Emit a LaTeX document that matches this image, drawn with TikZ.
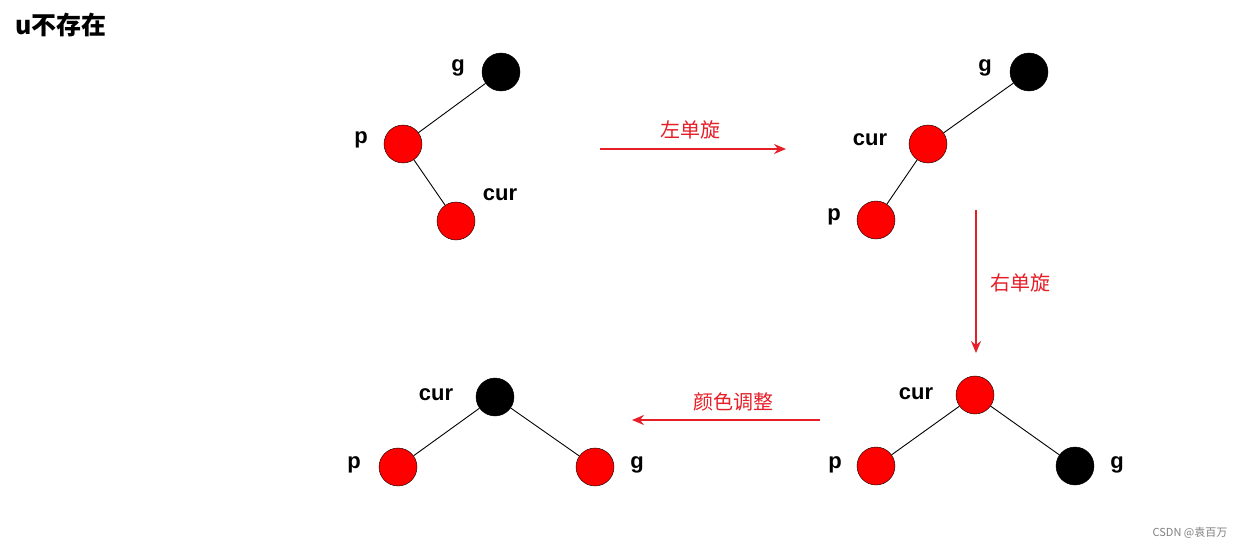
\documentclass[tikz,border=0pt]{standalone}
\usepackage{fontspec}
\setmainfont{Liberation Sans}
\newfontfamily\cjk{Noto Sans CJK SC}
\usetikzlibrary{arrows.meta}
\definecolor{rb}{RGB}{255,0,0}
\definecolor{ar}{RGB}{230,30,40}
\begin{document}
\begin{tikzpicture}[x=1pt,y=-1pt,
  rn/.style={circle,draw=black,fill=rb,minimum size=38pt,inner sep=0pt},
  bn/.style={circle,draw=black,fill=black,minimum size=38pt,inner sep=0pt},
  lab/.style={font=\bfseries\fontsize{22}{22}\selectfont},
  edge/.style={draw=black,line width=0.9pt},
  rarr/.style={draw=ar,line width=1.5pt,-{Stealth[length=12pt,width=10pt,inset=4pt]}},
  clab/.style={text=ar,font=\cjk\fontsize{20}{20}\selectfont}]
\useasboundingbox[fill=white] (0,0) rectangle (1258,551);
\node[font=\cjk\bfseries\fontsize{25}{25}\selectfont,anchor=west] (t) at (12,25) {u不存在};
% tree 1
\node[bn] (g1) at (501,72) {};
\node[rn] (p1) at (403,144) {};
\node[rn] (c1) at (456,221) {};
\draw[edge] (g1)--(p1) (p1)--(c1);
\node[lab] (lg1) at (458,68) {g};
\node[lab] (lp1) at (361,140) {p};
\node[lab] (lc1) at (500,195) {cur};
% arrow 1
\coordinate (a1s) at (600,149); \coordinate (a1e) at (786,149);
\draw[rarr] (a1s)--(a1e);
\node[clab] (t1) at (690,130) {左单旋};
% tree 2
\node[bn] (g2) at (1029,72) {};
\node[rn] (c2) at (928,144) {};
\node[rn] (p2) at (876,220) {};
\draw[edge] (g2)--(c2) (c2)--(p2);
\node[lab] (lg2) at (985,68) {g};
\node[lab] (lc2) at (870,140) {cur};
\node[lab] (lp2) at (834,217) {p};
% arrow 2
\coordinate (a2s) at (976,210); \coordinate (a2e) at (976,353);
\draw[rarr] (a2s)--(a2e);
\node[clab] (t2) at (1020,283) {右单旋};
% tree 3
\node[rn] (c3) at (975,395) {};
\node[rn] (p3) at (876,466) {};
\node[bn] (g3) at (1075,466) {};
\draw[edge] (c3)--(p3) (c3)--(g3);
\node[lab] (lc3) at (916,394) {cur};
\node[lab] (lp3) at (835,465) {p};
\node[lab] (lg3) at (1117,465) {g};
% arrow 3
\coordinate (a3s) at (820,420); \coordinate (a3e) at (632,420);
\draw[rarr] (a3s)--(a3e);
\node[clab] (t3) at (733,402) {颜色调整};
% tree 4
\node[bn] (c4) at (495,397) {};
\node[rn] (p4) at (398,467) {};
\node[rn] (g4) at (595,467) {};
\draw[edge] (c4)--(p4) (c4)--(g4);
\node[lab] (lc4) at (436,395) {cur};
\node[lab] (lp4) at (354,465) {p};
\node[lab] (lg4) at (637,465) {g};
\node[text=gray,font=\cjk\fontsize{11}{11}\selectfont] (wm) at (1190,533) {CSDN @袁百万};
\end{tikzpicture}
\end{document}
